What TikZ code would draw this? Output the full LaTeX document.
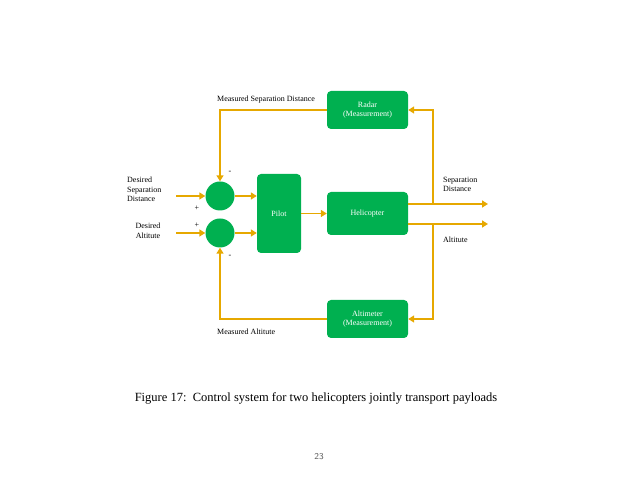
\documentclass[tikz,border=0pt]{standalone}
\usepackage{fontspec}
\setmainfont{Liberation Serif}
\usetikzlibrary{arrows.meta}
\definecolor{gr}{HTML}{00B050}
\definecolor{og}{HTML}{E6A800}
\begin{document}
\begin{tikzpicture}[x=1pt,y=-1pt,
 blk/.style={fill=gr,rounded corners=4pt,text=white,font=\fontsize{8}{9.5}\selectfont,align=center,inner sep=0},
 sum/.style={circle,fill=gr,minimum size=29pt,inner sep=0},
 ar/.style={og,line width=1.6pt,-{Triangle[length=6pt,width=7pt]}},
 ln/.style={og,line width=1.6pt},
 lb/.style={font=\fontsize{8}{9.5}\selectfont,inner sep=0,align=left}]
\useasboundingbox (0,0) rectangle (638,478);
\node[blk,minimum width=81pt,minimum height=38pt] (radar) at (367.5,110) {Radar\\(Measurement)};
\node[blk,minimum width=44pt,minimum height=79pt] (pilot) at (279,213.5) {Pilot};
\node[blk,minimum width=81pt,minimum height=43pt] (heli) at (367.5,213.5) {Helicopter};
\node[blk,minimum width=81pt,minimum height=38pt] (alt) at (367.5,319) {Altimeter\\(Measurement)};
\node[sum] (s1) at (220,196) {};
\node[sum] (s2) at (220,233) {};
\coordinate (in1) at (176,196);
\coordinate (in2) at (176,233);
\coordinate (o1) at (488,204);
\coordinate (o2) at (488,224);
\coordinate (t1) at (433,204);
\coordinate (t2) at (433,224);
\draw[ar] (in1) -- (s1);
\draw[ar] (in2) -- (s2);
\draw[ar] (s1) -- (s1 -| pilot.west);
\draw[ar] (s2) -- (s2 -| pilot.west);
\draw[ar] (pilot.east |- heli) -- (heli);
\draw[ar] (heli.east |- o1) -- (o1);
\draw[ar] (heli.east |- o2) -- (o2);
\draw[ar] (t1) |- (radar.east);
\draw[ar] (t2) |- (alt.east);
\draw[ar] (radar.west) -| (s1.north);
\draw[ar] (alt.west) -| (s2.south);
\node[lb,anchor=north west] (l1) at (127,177) {Desired\\Separation\\Distance};
\node[lb,anchor=north,align=center] (l2) at (148,223) {Desired\\Altitute};
\node[lb] (mp) at (230,172) {-};
\node[lb] (mm) at (230,256) {-};
\node[lb] (p1) at (197,208) {+};
\node[lb] (p2) at (197,225) {+};
\node[lb,anchor=west] (l3) at (217,100) {Measured Separation Distance};
\node[lb,anchor=west] (l4) at (217,332) {Measured Altitute};
\node[lb,anchor=north west] (l5) at (443,177) {Separation\\Distance};
\node[lb,anchor=west] (l6) at (443,240) {Altitute};
\node[font=\fontsize{12.5}{14}\selectfont,inner sep=0] (cap) at (316,398) {Figure 17:\ \ Control system for two helicopters jointly transport payloads};
\node[font=\sffamily\fontsize{9}{10}\selectfont,text=gray!70!black,inner sep=0] (pg) at (319,457) {23};
\end{tikzpicture}
\end{document}
